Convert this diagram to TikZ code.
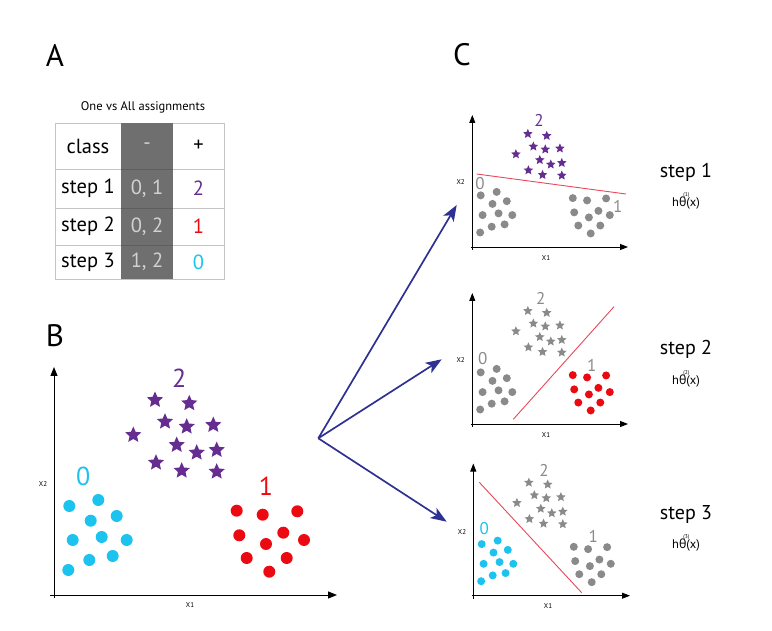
\documentclass[tikz,border=0pt]{standalone}
\usepackage{fontspec}
\setmainfont{PT Sans}
\newfontfamily\gk{Open Sans}
\usetikzlibrary{shapes.geometric,arrows.meta}
\definecolor{cpurple}{HTML}{662D91}
\definecolor{ccyan}{HTML}{1CC3EE}
\definecolor{cred}{HTML}{EC0A12}
\definecolor{cgray}{HTML}{8A8A8A}
\definecolor{cline}{HTML}{E8485A}
\definecolor{cblue}{HTML}{2E3192}
\definecolor{tdark}{HTML}{6F6F6F}
\definecolor{tgrid}{HTML}{C4C4C4}
\definecolor{tlight}{HTML}{D2D2D2}
\def\ptsZero{15.3/-89, 44.3/-95, 36.7/-74.3, 62.7/-79, 18.7/-55, 47.7/-58, 72.7/-55, 35.3/-35, 58.7/-39, 14.3/-25}
\def\ptsOne{182.7/-84.3, 208.7/-80.3, 243.3/-83.7, 185.3/-59.7, 212/-51, 229.3/-62.3, 250/-55, 192.7/-37, 232.7/-37, 215.3/-23.3}
\def\ptsTwo{101/-195, 135.3/-191.7, 111/-173.3, 132.7/-168.3, 159.3/-170, 79.3/-160, 122.7/-150, 142.7/-142.3, 162.7/-145, 102/-132.3, 127.7/-124.3, 162.7/-123.3}
\newcommand\hlab[1]{h{\gk θ}\rlap{\kern-3pt\raisebox{10pt}{\fontsize{5.5}{5.5}\selectfont(#1)}}(x)}
\begin{document}
\begin{tikzpicture}[x=1pt,y=-1pt,
  bigdot/.style={circle,inner sep=0pt,minimum size=12pt},
  smalldot/.style={circle,inner sep=0pt,minimum size=8pt},
  bigstar/.style={star,star points=5,star point ratio=2.15,inner sep=0pt,minimum size=17pt},
  smallstar/.style={star,star points=5,star point ratio=2.15,inner sep=0pt,minimum size=10pt},
  axisB/.style={line width=1pt,-{Triangle[length=9pt,width=7pt]}},
  axisC/.style={line width=0.9pt,-{Triangle[length=8pt,width=6pt]}},
  sep/.style={draw=cline,line width=0.9pt},
  bluearrow/.style={draw=cblue,line width=1.7pt,-{Stealth[length=16pt,width=12pt,inset=4pt]}},
  panel/.style={font=\fontsize{31}{31}\selectfont},
  tcell/.style={font=\fontsize{20.5}{20.5}\selectfont},
  tick/.style={font=\fontsize{7}{7}\selectfont},
  bignum/.style={font=\fontsize{26}{26}\selectfont},
  smallnum/.style={font=\fontsize{17}{17}\selectfont},
  steplab/.style={font=\fontsize{20}{20}\selectfont,inner sep=0pt},
  hlabel/.style={font=\fontsize{12.5}{12.5}\selectfont,inner sep=0pt}]
\useasboundingbox (0,0) rectangle (772,631);

% panel letters
\node[panel] (lA) at (55,55) {A};
\node[panel] (lB) at (55,336) {B};
\node[panel] (lC) at (462,55) {C};

% ---- table ----
\node[font=\fontsize{12.5}{12.5}\selectfont] (ttitle) at (143,107) {One vs All assignments};
\draw[tgrid,line width=0.8pt] (55,123) rectangle (224,279);
\foreach \yy in {169,208,245} \draw[tgrid,line width=0.8pt] (55,\yy) -- (224,\yy);
\fill[tdark] (121,123) rectangle (173,279);
\foreach \yy in {169,208,245} \draw[tdark!85!black,line width=0.5pt] (121,\yy) -- (173,\yy);
\node[tcell] (c11) at (88,146) {class};
\node[tcell,tlight] (c12) at (147,146) {-};
\node[tcell] (c13) at (198.5,146) {+};
\node[tcell] (c21) at (88,188.5) {step 1};
\node[tcell,tlight] (c22) at (147,188.5) {0, 1};
\node[tcell,cpurple] (c23) at (198.5,188.5) {2};
\node[tcell] (c31) at (88,226.5) {step 2};
\node[tcell,tlight] (c32) at (147,226.5) {0, 2};
\node[tcell,cred] (c33) at (198.5,226.5) {1};
\node[tcell] (c41) at (88,262) {step 3};
\node[tcell,tlight] (c42) at (147,262) {1, 2};
\node[tcell,ccyan] (c43) at (198.5,262) {0};

% ---- plot B ----
\coordinate (bY0) at (54,598); \coordinate (bY1) at (54,367);
\coordinate (bX0) at (50,595); \coordinate (bX1) at (337,595);
\draw[axisB] (bY0) -- (bY1);
\draw[axisB] (bX0) -- (bX1);
\node[tick] (bx1) at (190,605) {X1};
\node[tick] (bx2) at (43,484) {X2};
\begin{scope}[shift={(54,595)}]
  \foreach \x/\y [count=\i] in \ptsZero {\node[bigdot,fill=ccyan] (bz\i) at (\x,\y) {};}
  \foreach \x/\y [count=\i] in \ptsOne {\node[bigdot,fill=cred] (bo\i) at (\x,\y) {};}
  \foreach \x/\y [count=\i] in \ptsTwo {\node[bigstar,fill=cpurple] (bt\i) at (\x,\y) {};}
\end{scope}
\node[bignum,cpurple] (bl2) at (179.3,378.3) {2};
\node[bignum,ccyan] (bl0) at (83.3,476.7) {0};
\node[bignum,cred] (bl1) at (266,486.7) {1};

% ---- arrows ----
\coordinate (hub) at (318.3,438.3);
\coordinate (t1) at (456.7,205);
\coordinate (t2) at (441.7,359.3);
\coordinate (t3) at (446.7,521.7);
\draw[bluearrow] (hub) -- (t1);
\draw[bluearrow] (hub) -- (t2);
\draw[bluearrow] (hub) -- (t3);

% ---- plot C1 ----
\coordinate (aY0) at (472.3,250); \coordinate (aY1) at (472.3,115);
\coordinate (aX0) at (470.7,247); \coordinate (aX1) at (628,247);
\draw[axisC] (aY0) -- (aY1);
\draw[axisC] (aX0) -- (aX1);
\begin{scope}[shift={(472.3,247)},xscale=0.55,yscale=0.58]
  \foreach \x/\y [count=\i] in \ptsZero {\node[smalldot,fill=cgray] (az\i) at (\x,\y) {};}
  \foreach \x/\y [count=\i] in \ptsOne {\node[smalldot,fill=cgray] (ao\i) at (\x,\y) {};}
  \foreach \x/\y [count=\i] in \ptsTwo {\node[smallstar,fill=cpurple] (at\i) at (\x,\y) {};}
\end{scope}
\coordinate (as0) at (476.7,174); \coordinate (as1) at (626,194);
\draw[sep] (as0) -- (as1);
\node[smallnum,cpurple] (al2) at (539,120.7) {2};
\node[smallnum,cgray] (al0) at (480,184) {0};
\node[smallnum,cgray] (al1) at (617.7,206) {1};
\node[tick] (ax1) at (546,258.3) {X1};
\node[tick] (ax2) at (460.7,181.7) {X2};

% ---- plot C2 ----
\coordinate (cY0) at (472.3,427); \coordinate (cY1) at (472.3,293);
\coordinate (cX0) at (470.7,424); \coordinate (cX1) at (628,424);
\draw[axisC] (cY0) -- (cY1);
\draw[axisC] (cX0) -- (cX1);
\begin{scope}[shift={(472.3,424)},xscale=0.55,yscale=0.58]
  \foreach \x/\y [count=\i] in \ptsZero {\node[smalldot,fill=cgray] (cz\i) at (\x,\y) {};}
  \foreach \x/\y [count=\i] in \ptsOne {\node[smalldot,fill=cred] (co\i) at (\x,\y) {};}
  \foreach \x/\y [count=\i] in \ptsTwo {\node[smallstar,fill=cgray] (ct\i) at (\x,\y) {};}
\end{scope}
\coordinate (cs0) at (513.3,419.3); \coordinate (cs1) at (614,306.7);
\draw[sep] (cs0) -- (cs1);
\node[smallnum,cgray] (cl2) at (540.7,298.3) {2};
\node[smallnum,cgray] (cl0) at (482.7,358.3) {0};
\node[smallnum,cgray] (cl1) at (591.7,365) {1};
\node[tick] (cx1) at (546,435) {X1};
\node[tick] (cx2) at (460.7,360) {X2};

% ---- plot C3 ----
\coordinate (dY0) at (473.3,598.5); \coordinate (dY1) at (473.3,463.5);
\coordinate (dX0) at (471.5,595.7); \coordinate (dX1) at (630,595.7);
\draw[axisC] (dY0) -- (dY1);
\draw[axisC] (dX0) -- (dX1);
\begin{scope}[shift={(473.3,595.7)},xscale=0.55,yscale=0.58]
  \foreach \x/\y [count=\i] in \ptsZero {\node[smalldot,fill=ccyan] (dz\i) at (\x,\y) {};}
  \foreach \x/\y [count=\i] in \ptsOne {\node[smalldot,fill=cgray] (do\i) at (\x,\y) {};}
  \foreach \x/\y [count=\i] in \ptsTwo {\node[smallstar,fill=cgray] (dt\i) at (\x,\y) {};}
\end{scope}
\coordinate (ds0) at (479.3,482.3); \coordinate (ds1) at (581.7,592.7);
\draw[sep] (ds0) -- (ds1);
\node[smallnum,cgray] (dl2) at (544,470) {2};
\node[smallnum,ccyan] (dl0) at (484.3,529) {0};
\node[smallnum,cgray] (dl1) at (593.3,536) {1};
\node[tick] (dx1) at (548,606) {X1};
\node[tick] (dx2) at (462,531.7) {X2};

% ---- step labels ----
\node[steplab] (s1) at (686,172.5) {step 1};
\node[hlabel] (h1) at (686,200.5) {\hlab{1}};
\node[steplab] (s2) at (686,349.5) {step 2};
\node[hlabel] (h2) at (686,378.5) {\hlab{2}};
\node[steplab] (s3) at (686,514.5) {step 3};
\node[hlabel] (h3) at (686,542.5) {\hlab{3}};
\end{tikzpicture}
\end{document}
